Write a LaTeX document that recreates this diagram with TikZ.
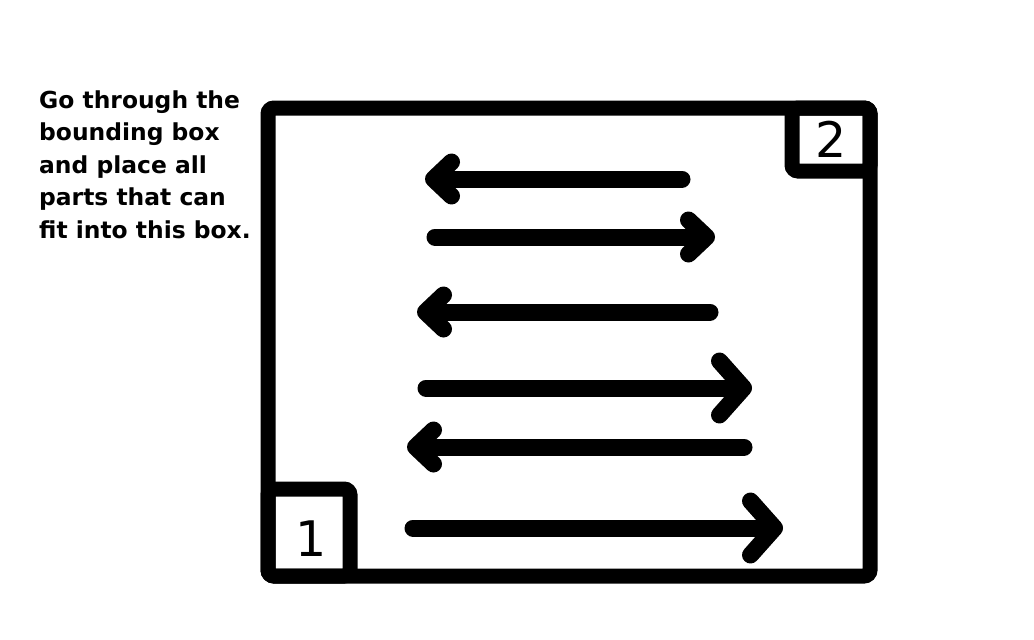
\documentclass[tikz,border=0pt]{standalone}
\usepackage{fontspec}
\setmainfont{DejaVu Sans}
\usetikzlibrary{arrows.meta}
\begin{document}
\begin{tikzpicture}[x=1pt,y=-1pt,
  boxline/.style={draw=black,line width=15pt,inner sep=0pt},
  numtext/.style={font=\fontsize{49}{49}\selectfont},
  arrowline/.style={draw=black,line width=17pt,line cap=round},
  headS/.style={-{Straight Barb[length=18pt,width=34pt,line cap=round,line join=round]}},
  headL/.style={-{Straight Barb[length=24pt,width=54pt,line cap=round,line join=round]}}]
\useasboundingbox[fill=white] (0,0) rectangle (1034,640);
\node[anchor=north west,inner sep=0pt,align=left,
  font=\bfseries\fontsize{23.4}{32.5}\selectfont] (note) at (39,90.5)
  {Go through the\\bounding box\\and place all\\parts that can\\fit into this box.};
\node[boxline,rounded corners=6pt,minimum width=602pt,minimum height=468pt] (frame) at (569,342) {};
\node[boxline,rounded corners=6pt,minimum width=82pt,minimum height=87pt,numtext] (b1) at (309,532.5) {\hspace*{5pt}\raisebox{-6pt}[\height][0pt]{1}};
\node[boxline,rounded corners=6pt,minimum width=78pt,minimum height=63pt,numtext] (b2) at (831,139.5) {2};
\coordinate (a1s) at (682,179); \coordinate (a1e) at (425,179);
\coordinate (a2s) at (435,237); \coordinate (a2e) at (715,237);
\coordinate (a3s) at (710,312); \coordinate (a3e) at (417,312);
\coordinate (a4s) at (426,388); \coordinate (a4e) at (752,388);
\coordinate (a5s) at (744,447); \coordinate (a5e) at (407,447);
\coordinate (a6s) at (413,528); \coordinate (a6e) at (783,528);
\draw[arrowline,headS] (a1s) -- (a1e);
\draw[arrowline,headS] (a2s) -- (a2e);
\draw[arrowline,headS] (a3s) -- (a3e);
\draw[arrowline,headL] (a4s) -- (a4e);
\draw[arrowline,headS] (a5s) -- (a5e);
\draw[arrowline,headL] (a6s) -- (a6e);
\end{tikzpicture}
\end{document}
